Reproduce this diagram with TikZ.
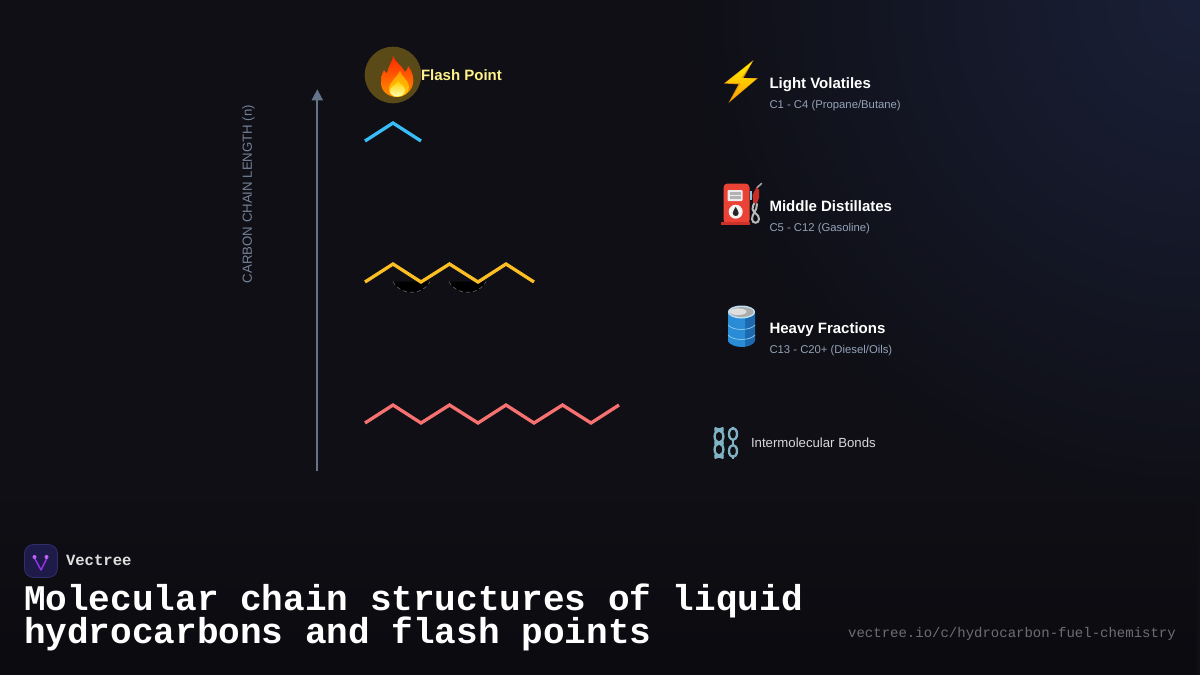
\documentclass[tikz,border=0pt]{standalone}
\usepackage{fontspec}
\setmainfont{Liberation Sans}
\newfontfamily\monof{Liberation Mono}
\usetikzlibrary{fadings,arrows.meta}
\definecolor{bgc}{HTML}{0F0F15}
\definecolor{glowc}{HTML}{1A2038}
\definecolor{axisc}{HTML}{64748B}
\definecolor{subc}{HTML}{94A3B8}
\definecolor{flashc}{HTML}{FEF08A}
\definecolor{linkc}{HTML}{7FB2C4}
\definecolor{dashc}{HTML}{5A5A60}
\definecolor{urlc}{HTML}{6E6E72}
\tikzfading[name=glowfade, inner color=transparent!0, outer color=transparent!100]
\tikzfading[name=bottomfade, top color=transparent!100, bottom color=transparent!0]
\tikzset{
  chainline/.style={line width=3.3pt, line join=miter, line cap=butt},
  fs/.style={inner sep=0pt, outer sep=0pt, anchor=base west},
  head/.style={fs, font=\fontsize{15}{18}\selectfont\bfseries, text=white},
  sub/.style={fs, font=\fontsize{11.3}{13}\selectfont, text=subc},
  title/.style={fs, font=\monof\fontsize{36.05}{33}\selectfont\bfseries, text=white},
  vander/.style={draw=dashc, line width=.7pt, dash pattern=on 4pt off 3pt},
}
\begin{document}
\begin{tikzpicture}[x=1pt,y=-1pt]
\useasboundingbox (0,0) rectangle (1200,675);
\fill[bgc] (0,0) rectangle (1200,675);
\begin{scope}
\clip (0,0) rectangle (1200,675);
\fill[glowc, path fading=glowfade] (1200,0) circle (520);
\fill[black!25!bgc, path fading=bottomfade] (0,500) rectangle (1200,675);
\end{scope}

% axis
\coordinate (axisS) at (317.3,471);
\coordinate (axisE) at (317.3,89.3);
\draw[axisc, line width=2pt, -{Triangle[length=11pt,width=11pt]}] (axisS) -- (axisE);
\node[rotate=90, inner sep=0pt, text=axisc!90!white, font=\fontsize{13.2}{15}\selectfont] (axl) at (248.5,194) {CARBON CHAIN LENGTH (n)};

% flash icon
\fill[color={rgb,255:red,90;green,74;blue,24}] (393,75) circle (28.3);
\shade[top color=red!70!orange, bottom color=orange!85!yellow]
  (393.5,56) .. controls (394,62) and (402,65) .. (405,72) .. controls (407,70) and (408,68) .. (408,66)
  .. controls (413,72) and (414,79) .. (413,84) .. controls (411,92) and (404,97) .. (397,97)
  .. controls (388,97) and (381,91) .. (381,83) .. controls (381,77) and (382,74) .. (384,70)
  .. controls (385,72) and (386,73) .. (387,73) .. controls (388,67) and (392,62) .. (393.5,56) -- cycle;
\shade[top color=orange!80!yellow, bottom color=orange!35!yellow]
  (400,71) .. controls (401,76) and (409,80) .. (409,87) .. controls (409,93) and (403,97) .. (397,97)
  .. controls (392,97) and (388.5,93) .. (389,88) .. controls (389.5,84) and (392,82) .. (394,79)
  .. controls (396,76) and (399,74) .. (400,71) -- cycle;
\shade[top color=yellow!60!orange, bottom color=yellow!30!white]
  (398,81) .. controls (400,84) and (405,86) .. (405,90) .. controls (405,94) and (401,96.5) .. (397,96.5)
  .. controls (393,96.5) and (390,94) .. (390,90.5) .. controls (390,87) and (396,85) .. (398,81) -- cycle;
\node[fs, font=\fontsize{15}{18}\selectfont\bfseries, text=flashc] (flash) at (421,80) {Flash Point};

% chains
\fill[black] (393,281.5) .. controls (400,296) and (423,296) .. (430,281.5) -- cycle;
\fill[black] (449,281.5) .. controls (456,296) and (479,296) .. (486,281.5) -- cycle;
\draw[vander] (393,281.5) .. controls (400,296) and (423,296) .. (430,281.5);
\draw[vander] (449,281.5) .. controls (456,296) and (479,296) .. (486,281.5);
\draw[chainline, color={rgb,255:red,56;green,189;blue,248}] (365,141) -- (393,123) -- (421,141);
\draw[chainline, color={rgb,255:red,251;green,191;blue,36}] (365,282) -- (393,264) -- (421,282) -- (449.5,264) -- (478,282) -- (506,264) -- (534,282);
\draw[chainline, color={rgb,255:red,248;green,113;blue,113}] (365,423) -- (393,405) -- (421,423) -- (449.5,405) -- (478,423) -- (506,405) -- (534,423) -- (562.5,405) -- (591,423) -- (619,405);

% bolt
\fill[color={rgb,255:red,220;green,140;blue,20}] (753.5,60) -- (724,83.5) -- (738.5,84.3) -- (728.5,103) -- (758,78) -- (743.5,78) -- cycle;
\shade[top color=yellow!90!orange, bottom color=orange!75!yellow]
  (752.5,61.5) -- (725.5,82.8) -- (740.5,83.5) -- (730.5,100.5) -- (756.5,78.7) -- (741.5,78) -- cycle;

% pump
\draw[gray!55, line width=2pt, line cap=round] (755,201) .. controls (754,205) and (752,206) .. (752.5,209) .. controls (753,213) and (759,214) .. (759,219) .. controls (759,224) and (752,224) .. (752,219) .. controls (752,214) and (757,211) .. (757,204);
\draw[gray!70, line width=1.6pt, line cap=round] (756.7,188) -- (761.5,183.5);
\fill[color={rgb,255:red,200;green,45;blue,40}] (752.5,195) -- (756.5,187) -- (759,190) -- (759,198) -- (757,203) -- (753.5,203) -- cycle;
\fill[color={rgb,255:red,234;green,67;blue,53}, rounded corners=4pt] (723.5,183.5) rectangle (749.5,224);
\fill[color={rgb,255:red,130;green,200;blue,225}] (749.5,191) rectangle (752,200);
\fill[color={rgb,255:red,205;green,50;blue,42}] (721,221.5) rectangle (750,225);
\fill[gray!15, rounded corners=.8pt] (727.5,190) rectangle (742.5,201);
\fill[gray!60] (729.5,192.3) rectangle (740.5,195);
\fill[gray!60] (729.5,196.3) rectangle (740.5,199);
\fill[white!92!gray] (735.7,211.7) circle (7);
\fill[black!85] (735.7,206.5) .. controls (735.7,208) and (738.7,210.5) .. (738.7,213) .. controls (738.7,217) and (732.7,217) .. (732.7,213) .. controls (732.7,210.5) and (735.7,208) .. (735.7,206.5) -- cycle;

% barrel
\fill[color={rgb,255:red,28;green,105;blue,175}] (728,313) -- (728,341) .. controls (731,349) and (752,349) .. (755,341) -- (755,313) -- cycle;
\fill[color={rgb,255:red,42;green,140;blue,215}] (728,313) -- (728,341) .. controls (730,345) and (738,347) .. (745,347) -- (745,313) -- cycle;
\draw[color={rgb,255:red,130;green,195;blue,235}, line width=.8pt] (728,325) .. controls (733,331) and (750,331) .. (755,325);
\draw[color={rgb,255:red,130;green,195;blue,235}, line width=.8pt] (728,335) .. controls (733,341) and (750,341) .. (755,335);
\fill[color={rgb,255:red,190;green,225;blue,245}] (741.5,312) ellipse (13.7 and 6.5);
\fill[gray!65] (741.5,312) ellipse (12 and 5);
\fill[gray!25] (738,311.7) ellipse (8.5 and 3.3);

% chain icon
\begin{scope}[draw=linkc, line width=2.3pt]
\draw (719,436.5) ellipse (4.4 and 6);
\draw (719,449.5) ellipse (4.4 and 6);
\draw (714.5,428) -- (723.5,431) (723.5,428) -- (714.5,431);
\draw (714.5,441.5) -- (723.5,444.5) (723.5,441.5) -- (714.5,444.5);
\draw (714.5,455) -- (723.5,458) (723.5,455) -- (714.5,458);
\draw (733,434) ellipse (4 and 6);
\draw (733,451) ellipse (4 and 6);
\draw (733,427.5) -- (733,430) (733,440) -- (733,445) (733,455) -- (733,458.5);
\end{scope}

% legend
\node[head] (l1) at (769.5,88.6) {Light Volatiles};
\node[sub] (s1) at (769.5,108) {C1 - C4 (Propane/Butane)};
\node[head] (l2) at (769.5,211.4) {Middle Distillates};
\node[sub] (s2) at (769.5,231) {C5 - C12 (Gasoline)};
\node[head] (l3) at (769.5,333.6) {Heavy Fractions};
\node[sub] (s3) at (769.5,353) {C13 - C20+ (Diesel/Oils)};
\node[fs, font=\fontsize{13.2}{16}\selectfont, text=gray!30!white] (l4) at (751,447) {Intermolecular Bonds};

% logo
\draw[draw={rgb,255:red,49;green,46;blue,110}, fill={rgb,255:red,30;green,27;blue,75}, rounded corners=9pt, line width=.8pt] (24.5,544.5) rectangle (57.5,577.5);
\draw[color={rgb,255:red,147;green,51;blue,234}, line width=1.4pt, line join=round] (34.5,558) -- (41,570) -- (47,558);
\fill[color={rgb,255:red,192;green,100;blue,240}] (34.5,557) circle (2) (46.5,557) circle (2);
\node[fs, font=\monof\fontsize{15.6}{18}\selectfont\bfseries, text=gray!25!white] (brand) at (66,565.5) {Vectree};

% title
\node[title] (t1) at (24,610) {Molecular chain structures of liquid};
\node[title] (t2) at (24,643) {hydrocarbons and flash points};
\node[inner sep=0pt, anchor=base east, font=\monof\fontsize{14}{16}\selectfont, text=urlc] (url) at (1176,637.5) {vectree.io/c/hydrocarbon-fuel-chemistry};
\end{tikzpicture}
\end{document}
